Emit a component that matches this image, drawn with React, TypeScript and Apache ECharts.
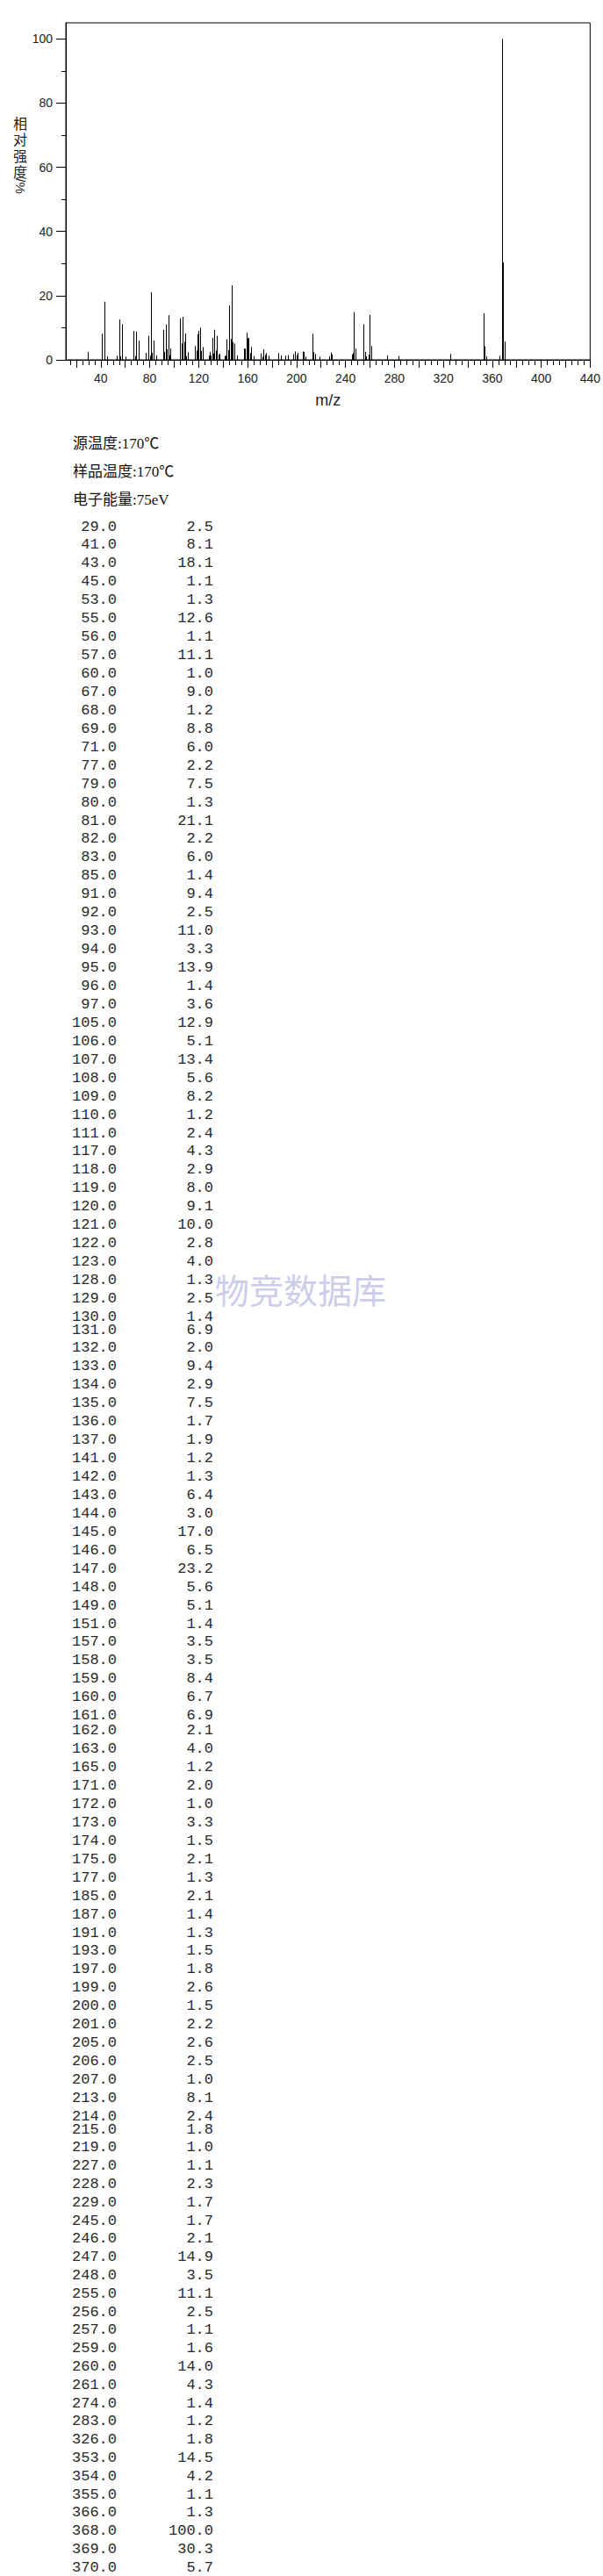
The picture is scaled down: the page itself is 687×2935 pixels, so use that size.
import React, { useEffect, useRef } from "react";
import * as echarts from "echarts";

// ---- data ----
const mzValues = [
  29, 41, 43, 45, 53, 55, 56, 57, 60, 67, 68, 69, 71, 77, 79, 80, 81, 82, 83, 85,
  91, 92, 93, 94, 95, 96, 97, 105, 106, 107, 108, 109, 110, 111, 117, 118, 119, 120,
  121, 122, 123, 128, 129, 130, 131, 132, 133, 134, 135, 136, 137, 141, 142, 143,
  144, 145, 146, 147, 148, 149, 151, 157, 158, 159, 160, 161, 162, 163, 165, 171,
  172, 173, 174, 175, 177, 185, 187, 191, 193, 197, 199, 200, 201, 205, 206, 207,
  213, 214, 215, 219, 227, 228, 229, 245, 246, 247, 248, 255, 256, 257, 259, 260,
  261, 274, 283, 326, 353, 354, 355, 366, 368, 369, 370,
];
const intensities = [
  2.5, 8.1, 18.1, 1.1, 1.3, 12.6, 1.1, 11.1, 1.0, 9.0, 1.2, 8.8, 6.0, 2.2, 7.5, 1.3, 21.1, 2.2, 6.0, 1.4,
  9.4, 2.5, 11.0, 3.3, 13.9, 1.4, 3.6, 12.9, 5.1, 13.4, 5.6, 8.2, 1.2, 2.4, 4.3, 2.9, 8.0, 9.1,
  10.0, 2.8, 4.0, 1.3, 2.5, 1.4, 6.9, 2.0, 9.4, 2.9, 7.5, 1.7, 1.9, 1.2, 1.3, 6.4,
  3.0, 17.0, 6.5, 23.2, 5.6, 5.1, 1.4, 3.5, 3.5, 8.4, 6.7, 6.9, 2.1, 4.0, 1.2, 2.0,
  1.0, 3.3, 1.5, 2.1, 1.3, 2.1, 1.4, 1.3, 1.5, 1.8, 2.6, 1.5, 2.2, 2.6, 2.5, 1.0,
  8.1, 2.4, 1.8, 1.0, 1.1, 2.3, 1.7, 1.7, 2.1, 14.9, 3.5, 11.1, 2.5, 1.1, 1.6, 14.0,
  4.3, 1.4, 1.2, 1.8, 14.5, 4.2, 1.1, 1.3, 100.0, 30.3, 5.7,
];
const conditionLines = ["源温度:170℃", "样品温度:170℃", "电子能量:75eV"];
const xLabelValues = [40, 80, 120, 160, 200, 240, 280, 320, 360, 400, 440];
const xMajorTicks = [20, 40, 60, 80, 100, 120, 140, 160, 180, 200, 220, 240, 260, 280, 300, 320, 340, 360, 380, 400, 420, 440];
const xMinorTicks = [
  15, 25, 30, 35, 45, 50, 55, 65, 70, 75, 85, 90, 95, 105, 110, 115, 125, 130, 135, 145, 150, 155,
  165, 170, 175, 185, 190, 195, 205, 210, 215, 225, 230, 235, 245, 250, 255, 265, 270, 275, 285, 290,
  295, 305, 310, 315, 325, 330, 335, 345, 350, 355, 365, 370, 375, 385, 390, 395, 405, 410, 415, 425,
  430, 435,
];
const yLabelValues = [0, 20, 40, 60, 80, 100];
const yMinorTicks = [10, 30, 50, 70, 90];
const xAxisName = "m/z";
const yAxisNameChars = ["相", "对", "强", "度"];
const yAxisNameTail = "/%";
const watermark = "物竞数据库";

// ---- layout ----
const W = 687;
const H = 2935;
const X_MIN = 11.4;
const X_MAX = 440;
const Y_MAX = 105;
const segStarts = [0, 44, 66, 88];
const segY = [600, 1515, 1971.7, 2426];
const segStep = [20.94, 20.94, 20.94, 20.8];

function rowY(i: number) {
  let s = 0;
  for (let k = 0; k < segStarts.length; k++) if (i >= segStarts[k]) s = k;
  return segY[s] + (i - segStarts[s]) * segStep[s];
}

const axisFont = { fontFamily: "'Liberation Sans', 'DejaVu Sans', sans-serif", fontSize: 14, color: "#222" };
const monoFont = "'Liberation Mono', monospace";

export default function App() {
  const ref = useRef<HTMLDivElement>(null);
  useEffect(() => {
    if (!ref.current) return;
    const chart = echarts.init(ref.current, undefined, { renderer: "svg" });

    const tableEls: any[] = [];
    conditionLines.forEach((t, i) => {
      tableEls.push({
        type: "text",
        x: 83,
        y: 505 + i * 32,
        style: {
          text: t,
          fill: "#111",
          fontSize: 17,
          fontFamily: "'Liberation Serif', 'Noto Sans CJK SC', serif",
          align: "left",
          verticalAlign: "middle",
        },
      });
    });
    mzValues.forEach((m, i) => {
      const y = rowY(i);
      tableEls.push({
        type: "text",
        x: 133,
        y,
        style: {
          text: m.toFixed(1),
          fill: "#2a2a2a",
          fontSize: 17,
          fontFamily: monoFont,
          align: "right",
          verticalAlign: "middle",
        },
      });
      tableEls.push({
        type: "text",
        x: 243,
        y,
        style: {
          text: intensities[i].toFixed(1),
          fill: "#2a2a2a",
          fontSize: 17,
          fontFamily: monoFont,
          align: "right",
          verticalAlign: "middle",
        },
      });
    });

    const yNameEls = yAxisNameChars.map((c, i) => ({
      type: "text",
      x: 23,
      y: 140 + i * 18.3,
      style: {
        text: c,
        fill: "#222",
        fontSize: 16,
        fontFamily: "'Noto Sans CJK SC', sans-serif",
        align: "center",
        verticalAlign: "middle",
      },
    }));

    const option: any = {
      animation: false,
      backgroundColor: "#fff",
      grid: {
        left: 75,
        top: 26,
        width: 603,
        height: 384,
        show: true,
        borderColor: "#000",
        borderWidth: 1,
        backgroundColor: "transparent",
      },
      xAxis: [
        {
          type: "value",
          min: X_MIN,
          max: X_MAX,
          position: "bottom",
          name: xAxisName,
          nameLocation: "middle",
          nameGap: 37,
          nameTextStyle: { fontFamily: "'Liberation Sans', 'DejaVu Sans', sans-serif", fontSize: 18, color: "#222" },
          axisLine: { show: true, onZero: false, lineStyle: { color: "#000", width: 1 } },
          axisTick: { show: true, length: 9, customValues: xMajorTicks, lineStyle: { color: "#000" } },
          axisLabel: { show: true, margin: 14, customValues: xLabelValues, ...axisFont },
          splitLine: { show: false },
        },
        {
          type: "value",
          min: X_MIN,
          max: X_MAX,
          position: "bottom",
          offset: 0,
          axisLine: { show: false },
          axisTick: { show: true, length: 6, customValues: xMinorTicks, lineStyle: { color: "#000" } },
          axisLabel: { show: false },
          splitLine: { show: false },
        },
      ],
      yAxis: [
        {
          type: "value",
          min: 0,
          max: Y_MAX,
          position: "left",
          axisLine: { show: true, onZero: false, lineStyle: { color: "#000", width: 1 } },
          axisTick: { show: true, length: 11, customValues: yLabelValues, lineStyle: { color: "#000" } },
          axisLabel: { show: true, margin: 15, customValues: yLabelValues, ...axisFont },
          splitLine: { show: false },
        },
        {
          type: "value",
          min: 0,
          max: Y_MAX,
          position: "left",
          offset: 0,
          axisLine: { show: false },
          axisTick: { show: true, length: 5, customValues: yMinorTicks, lineStyle: { color: "#000" } },
          axisLabel: { show: false },
          splitLine: { show: false },
        },
      ],
      series: [
        {
          type: "custom",
          xAxisIndex: 0,
          yAxisIndex: 0,
          data: mzValues.map((m, i) => [m, intensities[i]]),
          encode: { x: 0, y: 1 },
          renderItem: (_params: any, api: any) => {
            const x = api.value(0);
            const y = api.value(1);
            const p0 = api.coord([x, 0]);
            const p1 = api.coord([x, y]);
            const px = Math.round(p0[0]) + 0.5;
            return {
              type: "line",
              shape: { x1: px, y1: p0[1], x2: px, y2: p1[1] },
              style: { stroke: "#000", lineWidth: 1 },
            };
          },
        },
      ],
      graphic: [
        ...yNameEls,
        {
          type: "text",
          x: 23,
          y: 212,
          rotation: -Math.PI / 2,
          style: {
            text: yAxisNameTail,
            fill: "#222",
            fontSize: 15,
            fontFamily: "'Liberation Sans', sans-serif",
            align: "center",
            verticalAlign: "middle",
          },
        },
        ...tableEls,
        {
          type: "text",
          x: 245,
          y: 1468,
          z: 100,
          style: {
            text: watermark,
            fill: "rgba(140,140,210,0.45)",
            fontSize: 39,
            fontFamily: "'Noto Sans CJK SC', sans-serif",
            align: "left",
            verticalAlign: "middle",
          },
        },
      ],
    };
    chart.setOption(option);
    return () => chart.dispose();
  }, []);

  return (
    <div
      ref={ref}
      style={{ position: "absolute", left: 0, top: 0, width: W, height: H, background: "#fff" }}
    />
  );
}
